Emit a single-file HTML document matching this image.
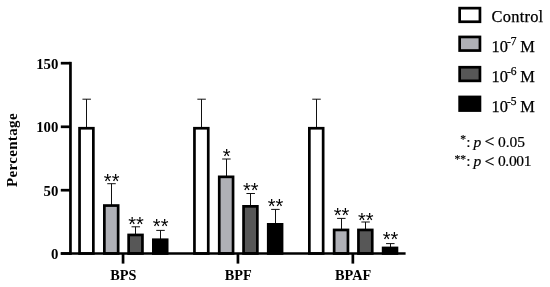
<!DOCTYPE html>
<html lang="en"><head><meta charset="utf-8"><title>Percentage bar chart</title>
<style>html,body{margin:0;padding:0;background:#fff}body{width:550px;height:287px;overflow:hidden}svg{display:block}</style></head>
<body>
<svg width="550" height="287" viewBox="0 0 550 287">
<rect width="550" height="287" fill="#fff"/>
<path d="M86.50 127.90V99.20M82.45 99.20H90.95" stroke="#111" stroke-width="1" fill="none"/>
<rect x="79.55" y="128.25" width="13.80" height="125.25" fill="#ffffff" stroke="#000" stroke-width="2.7"/>
<path d="M111.50 205.20V183.70M107.25 183.70H115.75" stroke="#111" stroke-width="1" fill="none"/>
<rect x="104.35" y="205.55" width="13.80" height="47.95" fill="#afb0b6" stroke="#000" stroke-width="2.7"/>
<text x="111.65" y="188.10" text-anchor="middle" font-family="'Liberation Sans', Arial, sans-serif" font-size="20" fill="#000">**</text>
<path d="M135.50 234.60V226.80M131.55 226.80H140.05" stroke="#111" stroke-width="1" fill="none"/>
<rect x="128.65" y="234.95" width="13.80" height="18.55" fill="#575757" stroke="#000" stroke-width="2.7"/>
<text x="135.95" y="230.80" text-anchor="middle" font-family="'Liberation Sans', Arial, sans-serif" font-size="20" fill="#000">**</text>
<path d="M160.50 239.40V230.40M156.25 230.40H164.75" stroke="#111" stroke-width="1" fill="none"/>
<rect x="153.35" y="239.75" width="13.80" height="13.75" fill="#000000" stroke="#000" stroke-width="2.7"/>
<text x="160.65" y="233.30" text-anchor="middle" font-family="'Liberation Sans', Arial, sans-serif" font-size="20" fill="#000">**</text>
<path d="M201.50 127.90V99.20M197.35 99.20H205.85" stroke="#111" stroke-width="1" fill="none"/>
<rect x="194.45" y="128.25" width="13.80" height="125.25" fill="#ffffff" stroke="#000" stroke-width="2.7"/>
<path d="M226.50 176.50V159.00M222.15 159.00H230.65" stroke="#111" stroke-width="1" fill="none"/>
<rect x="219.25" y="176.85" width="13.80" height="76.65" fill="#afb0b6" stroke="#000" stroke-width="2.7"/>
<text x="226.55" y="162.60" text-anchor="middle" font-family="'Liberation Sans', Arial, sans-serif" font-size="20" fill="#000">*</text>
<path d="M250.50 206.00V193.50M246.45 193.50H254.95" stroke="#111" stroke-width="1" fill="none"/>
<rect x="243.55" y="206.35" width="13.80" height="47.15" fill="#575757" stroke="#000" stroke-width="2.7"/>
<text x="250.85" y="197.20" text-anchor="middle" font-family="'Liberation Sans', Arial, sans-serif" font-size="20" fill="#000">**</text>
<path d="M275.50 224.00V209.40M271.15 209.40H279.65" stroke="#111" stroke-width="1" fill="none"/>
<rect x="268.25" y="224.35" width="13.80" height="29.15" fill="#000000" stroke="#000" stroke-width="2.7"/>
<text x="275.55" y="213.00" text-anchor="middle" font-family="'Liberation Sans', Arial, sans-serif" font-size="20" fill="#000">**</text>
<path d="M316.50 127.90V99.20M312.25 99.20H320.75" stroke="#111" stroke-width="1" fill="none"/>
<rect x="309.35" y="128.25" width="13.80" height="125.25" fill="#ffffff" stroke="#000" stroke-width="2.7"/>
<path d="M341.50 229.60V218.40M337.05 218.40H345.55" stroke="#111" stroke-width="1" fill="none"/>
<rect x="334.15" y="229.95" width="13.80" height="23.55" fill="#afb0b6" stroke="#000" stroke-width="2.7"/>
<text x="341.45" y="222.40" text-anchor="middle" font-family="'Liberation Sans', Arial, sans-serif" font-size="20" fill="#000">**</text>
<path d="M365.50 229.60V222.00M361.35 222.00H369.85" stroke="#111" stroke-width="1" fill="none"/>
<rect x="358.45" y="229.95" width="13.80" height="23.55" fill="#575757" stroke="#000" stroke-width="2.7"/>
<text x="365.75" y="227.00" text-anchor="middle" font-family="'Liberation Sans', Arial, sans-serif" font-size="20" fill="#000">**</text>
<path d="M390.50 247.60V243.60M386.05 243.60H394.55" stroke="#111" stroke-width="1" fill="none"/>
<rect x="383.15" y="247.95" width="13.80" height="5.55" fill="#000000" stroke="#000" stroke-width="2.7"/>
<text x="390.45" y="245.60" text-anchor="middle" font-family="'Liberation Sans', Arial, sans-serif" font-size="20" fill="#000">**</text>
<path d="M70.45 61.85V254.85" stroke="#000" stroke-width="2.7" fill="none"/>
<path d="M60.8 253.5H405.6" stroke="#000" stroke-width="2.7" fill="none"/>
<path d="M60.8 63.2H70.4" stroke="#000" stroke-width="2.7"/>
<text x="58.4" y="68.70" text-anchor="end" font-family="'Liberation Serif', serif" font-weight="bold" font-size="14.8" fill="#000">150</text>
<path d="M60.8 126.8H70.4" stroke="#000" stroke-width="2.7"/>
<text x="58.4" y="132.30" text-anchor="end" font-family="'Liberation Serif', serif" font-weight="bold" font-size="14.8" fill="#000">100</text>
<path d="M60.8 190.2H70.4" stroke="#000" stroke-width="2.7"/>
<text x="58.4" y="195.70" text-anchor="end" font-family="'Liberation Serif', serif" font-weight="bold" font-size="14.8" fill="#000">50</text>
<path d="M60.8 253.5H70.4" stroke="#000" stroke-width="2.7"/>
<text x="58.4" y="259.00" text-anchor="end" font-family="'Liberation Serif', serif" font-weight="bold" font-size="14.8" fill="#000">0</text>
<path d="M123.05 253.5V263.6" stroke="#000" stroke-width="2.7"/>
<text x="123.35" y="279.6" text-anchor="middle" font-family="'Liberation Serif', serif" font-weight="bold" font-size="14.3" fill="#000">BPS</text>
<path d="M237.95 253.5V263.6" stroke="#000" stroke-width="2.7"/>
<text x="238.25" y="279.6" text-anchor="middle" font-family="'Liberation Serif', serif" font-weight="bold" font-size="14.3" fill="#000">BPF</text>
<path d="M352.85 253.5V263.6" stroke="#000" stroke-width="2.7"/>
<text x="353.15" y="279.6" text-anchor="middle" font-family="'Liberation Serif', serif" font-weight="bold" font-size="14.3" fill="#000">BPAF</text>
<text transform="translate(17.3 150.1) rotate(-90)" text-anchor="middle" font-family="'Liberation Serif', serif" font-weight="bold" font-size="15" letter-spacing="0.35" fill="#000">Percentage</text>
<rect x="459.65" y="8.15" width="20.30" height="13.60" fill="#ffffff" stroke="#000" stroke-width="2.7"/>
<rect x="459.65" y="36.95" width="20.30" height="13.60" fill="#afb0b6" stroke="#000" stroke-width="2.7"/>
<rect x="459.65" y="67.25" width="20.30" height="13.60" fill="#575757" stroke="#000" stroke-width="2.7"/>
<rect x="459.65" y="96.95" width="20.30" height="13.60" fill="#000000" stroke="#000" stroke-width="2.7"/>
<text x="491.6" y="22.0" font-family="'Liberation Serif', serif" font-size="16.4" letter-spacing="0.25" fill="#000" stroke="#000" stroke-width="0.25">Control</text>
<text y="51.8" font-family="'Liberation Serif', serif" font-size="16.4" fill="#000" stroke="#000" stroke-width="0.25"><tspan x="491.5">10</tspan><tspan x="507.0" font-size="11.5" dy="-7.3">-7</tspan><tspan x="520.2" dy="7.3">M</tspan></text>
<text y="82.0" font-family="'Liberation Serif', serif" font-size="16.4" fill="#000" stroke="#000" stroke-width="0.25"><tspan x="491.5">10</tspan><tspan x="507.0" font-size="11.5" dy="-7.3">-6</tspan><tspan x="520.2" dy="7.3">M</tspan></text>
<text y="111.8" font-family="'Liberation Serif', serif" font-size="16.4" fill="#000" stroke="#000" stroke-width="0.25"><tspan x="491.5">10</tspan><tspan x="507.0" font-size="11.5" dy="-7.3">-5</tspan><tspan x="520.2" dy="7.3">M</tspan></text>
<text y="146.5" font-family="'Liberation Serif', serif" font-size="15.5" fill="#000" stroke="#000" stroke-width="0.2"><tspan x="466.2" text-anchor="end" font-size="11.5" letter-spacing="0.1" dy="-3.4">*</tspan><tspan x="466.3" dy="3.4">:</tspan><tspan x="473.4" font-style="italic">p</tspan><tspan x="484.6" font-size="17.5" dy="0.5">&lt;</tspan><tspan x="497.9" dy="-0.5" letter-spacing="0">0.05</tspan></text>
<text y="166.2" font-family="'Liberation Serif', serif" font-size="15.5" fill="#000" stroke="#000" stroke-width="0.2"><tspan x="466.2" text-anchor="end" font-size="11.5" letter-spacing="0.1" dy="-3.4">**</tspan><tspan x="466.3" dy="3.4">:</tspan><tspan x="473.4" font-style="italic">p</tspan><tspan x="484.6" font-size="17.5" dy="0.5">&lt;</tspan><tspan x="497.9" dy="-0.5" letter-spacing="-0.3">0.001</tspan></text>
</svg>
</body></html>
